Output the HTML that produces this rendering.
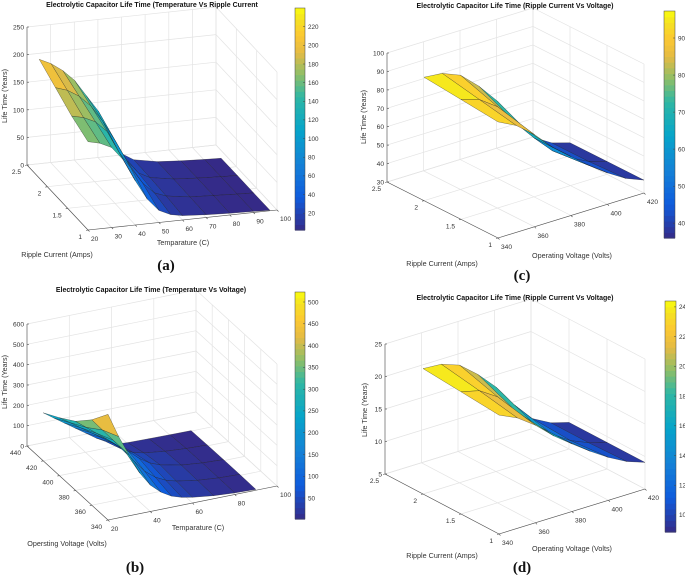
<!DOCTYPE html>
<html><head><meta charset="utf-8">
<style>
html,body{margin:0;padding:0;background:#fff;}
svg{display:block;font-family:"Liberation Sans",sans-serif;}
</style></head>
<body>
<svg id="fig" width="685" height="575" viewBox="0 0 685 575" xmlns="http://www.w3.org/2000/svg"></svg>
<script>
// ---- Panel (a): Temperature vs Ripple Current ----
const aTemps = [20,25,30,35,40,45,50,55,60,70,80,90,97];
const aRipple = [1,1.4,1.8,2.2];
const aLife = [
 [160,155,145,120,80,45,22,12,8,5,3,2,1],
 [175,170,160,140,100,70,40,20,12,6,4,2,1],
 [195,188,175,155,125,90,50,25,14,7,4,2,1],
 [215,205,190,170,140,110,60,28,15,7,4,2,1]];
const aXTicks = [20,30,40,50,60,70,80,90,100];
const aYTicks = [1,1.5,2,2.5];
const aZTicks = [0,50,100,150,200,250];
const aCbTicks = [20,40,60,80,100,120,140,160,180,200,220];
// ---- Panel (b): Temperature vs Voltage ----
const bTemps = [20,25,30,35,40,45,50,55,60,70,80,90];
const bVolts = [340,360,380,400,420];
const bLife = [
 [520,400,300,200,130,85,55,38,28,15,8,4],
 [420,360,300,245,175,115,75,50,35,18,9,5],
 [340,300,260,220,180,140,95,62,42,20,10,5],
 [285,250,215,180,145,110,65,40,28,15,8,4],
 [236,200,165,130,95,60,30,10,6,4,3,2]];
const bXTicks = [20,40,60,80,100];
const bYTicks = [340,360,380,400,420,440];
const bZTicks = [0,100,200,300,400,500,600];
const bCbTicks = [50,100,150,200,250,300,350,400,450,500];
// ---- Panel (c): Ripple Current vs Voltage ----
const cVolts = [340,350,360,370,380,390,400,410,420];
const cRipple = [1,1.5,2];
const cLife = [
 [93,88,80,70,62,54,47,41,37],
 [95,92,85,73,62,52,45,40,37],
 [97,96,92,83,72,58,46,40,37]];
const cXTicks = [340,360,380,400,420];
const cYTicks = [1,1.5,2,2.5];
const cZTicks = [30,40,50,60,70,80,90,100];
const cCbTicks = [40,50,60,70,80,90];
// ---- Panel (d): Ripple Current vs Voltage ----
const dVolts = [340,350,360,370,380,390,400,410,420];
const dRipple = [1,1.5,2];
const dLife = [
 [23.3,22.0,20.0,17.5,15.4,13.4,11.6,10.1,9.1],
 [23.8,23.1,21.3,18.2,15.4,12.9,11.1,9.9,9.1],
 [24.3,24.1,23.1,20.8,18.0,14.4,11.4,9.9,9.1]];
const dXTicks = [340,360,380,400,420];
const dYTicks = [1,1.5,2,2.5];
const dZTicks = [5,10,15,20,25];
const dCbTicks = [10,12,14,16,18,20,22,24];

const NS="http://www.w3.org/2000/svg";
const svg=document.getElementById('fig');
function mk(tag,attrs,parent,txt){const e=document.createElementNS(NS,tag);for(const k in attrs)e.setAttribute(k,attrs[k]);if(txt!==undefined)e.textContent=txt;(parent||svg).appendChild(e);return e;}
const stops=[[0,[53,42,135]],[0.15,[15,92,221]],[0.3,[20,129,214]],[0.45,[6,164,202]],[0.6,[46,183,164]],[0.7,[140,190,105]],[0.8,[228,187,68]],[0.88,[252,200,50]],[0.95,[245,226,34]],[1,[249,251,14]]];
function parula(t){t=Math.max(0,Math.min(1,t));for(let i=1;i<stops.length;i++){if(t<=stops[i][0]){const a=stops[i-1],b=stops[i];const f=(t-a[0])/(b[0]-a[0]);const c=a[1].map((v,j)=>Math.round(v+(b[1][j]-v)*f));return `rgb(${c[0]},${c[1]},${c[2]})`;}}return 'rgb(249,251,14)';}

function panel(p){
  const g=mk('g',{},svg);
  
  
  const [x0,x1]=p.xr,[y0,y1]=p.yr,[z0,z1]=p.zr;
  const P=(x,y,z)=>[p.O[0]+p.X[0]*(x-x0)/(x1-x0)+p.Y[0]*(y-y0)/(y1-y0)+p.Z[0]*(z-z0)/(z1-z0),
                   p.O[1]+p.X[1]*(x-x0)/(x1-x0)+p.Y[1]*(y-y0)/(y1-y0)+p.Z[1]*(z-z0)/(z1-z0)];
  const line=(a,b,attrs,name)=>{const l=mk('line',Object.assign({x1:a[0].toFixed(1),y1:a[1].toFixed(1),x2:b[0].toFixed(1),y2:b[1].toFixed(1)},attrs),g);return l;};
  const gs={stroke:'#e3e3e3','stroke-width':0.7};
  p.xt.forEach(x=>line(P(x,y0,z0),P(x,y1,z0),gs,'floor-gridline'));
  p.yt.forEach(y=>line(P(x0,y,z0),P(x1,y,z0),gs,'floor-gridline'));
  p.xt.forEach(x=>line(P(x,y1,z0),P(x,y1,z1),gs,'back-wall-gridline'));
  p.zt.forEach(z=>line(P(x0,y1,z),P(x1,y1,z),gs,'back-wall-gridline'));
  p.yt.forEach(y=>line(P(x1,y,z0),P(x1,y,z1),gs,'side-wall-gridline'));
  p.zt.forEach(z=>line(P(x1,y0,z),P(x1,y1,z),gs,'side-wall-gridline'));
  const as={stroke:'#4d4d4d','stroke-width':0.6};
  line(P(x0,y0,z0),P(x1,y0,z0),as,'x-axis');
  line(P(x0,y0,z0),P(x0,y1,z0),as,'y-axis');
  line(P(x0,y1,z0),P(x0,y1,z1),as,'z-axis');
  const ts={'font-size':6.6,fill:'#333'};
  p.xt.forEach(x=>{const q=P(x,y0,z0);const t=mk('text',Object.assign({x:(q[0]+3).toFixed(1),y:(q[1]+11).toFixed(1),'text-anchor':'start'},ts),g,String(x));line(q,[q[0]+1.5,q[1]+1.5],as,'x-tick');});
  p.yt.forEach(y=>{const q=P(x0,y,z0);const t=mk('text',Object.assign({x:(q[0]-6).toFixed(1),y:(q[1]+9).toFixed(1),'text-anchor':'end'},ts),g,String(y));line(q,[q[0]-2,q[1]+0.5],as,'y-tick');});
  p.zt.forEach(z=>{const q=P(x0,y1,z);const t=mk('text',Object.assign({x:(q[0]-3).toFixed(1),y:(q[1]+2.5).toFixed(1),'text-anchor':'end'},ts),g,String(z));line(q,[q[0]+2,q[1]],as,'z-tick');});
  const xs=p.xs,ys=p.ys,Zd=p.zd;const cells=[];
  for(let j=0;j<ys.length-1;j++)for(let i=0;i<xs.length-1;i++){
    const d=(xs[i]+xs[i+1]-2*x0)/(x1-x0)+(ys[j]+ys[j+1]-2*y0)/(y1-y0);
    cells.push({i,j,d});}
  cells.sort((a,b)=>b.d-a.d);
  cells.forEach(c=>{const {i,j}=c;
    const pts=[P(xs[i],ys[j],Zd[j][i]),P(xs[i+1],ys[j],Zd[j][i+1]),P(xs[i+1],ys[j+1],Zd[j+1][i+1]),P(xs[i],ys[j+1],Zd[j+1][i])];
    const zm=(Zd[j][i]+Zd[j][i+1]+Zd[j+1][i+1]+Zd[j+1][i])/4;
    const poly=mk('polygon',{points:pts.map(q=>q[0].toFixed(1)+','+q[1].toFixed(1)).join(' '),fill:parula((zm-p.cl[0])/(p.cl[1]-p.cl[0])),stroke:'#1a1a1a','stroke-width':0.35,'stroke-opacity':0.8},g);
    
    
  });
  const tt=mk('text',{x:p.title[0],y:p.title[1],'text-anchor':'middle','font-size':7,'font-weight':'bold',fill:'#111'},g,p.titleText);
  
  const xl=mk('text',{x:p.xl[0],y:p.xl[1],'text-anchor':'middle','font-size':7.2,fill:'#333'},g,p.xlText);
  
  const yl=mk('text',{x:p.yl[0],y:p.yl[1],'text-anchor':'middle','font-size':7.2,fill:'#333'},g,p.ylText);
  
  const zl=mk('text',{x:p.zl[0],y:p.zl[1],'text-anchor':'middle','font-size':7.2,fill:'#333',transform:`rotate(-90 ${p.zl[0]} ${p.zl[1]})`},g,'Life Time (Years)');
  
  const lb=mk('text',{x:p.lab[0],y:p.lab[1],'text-anchor':'middle','font-size':15,'font-weight':'bold','font-family':'Liberation Serif, serif',fill:'#111'},g,p.labText);
  
  const [cx,cy,cw,ch]=p.cb;const n=40;
  for(let k=0;k<n;k++){const r=mk('rect',{x:cx,y:(cy+ch*(1-(k+1)/n)).toFixed(2),width:cw,height:(ch/n+0.6).toFixed(2),fill:parula((k+0.5)/n)},g);}
  const fr=mk('rect',{x:cx,y:cy,width:cw,height:ch,fill:'none',stroke:'#444','stroke-width':0.5},g);
  
  p.cbt.forEach(v=>{const yy=cy+ch*(1-(v-p.cl[0])/(p.cl[1]-p.cl[0]));const t=mk('text',{x:cx+cw+3,y:(yy+2.3).toFixed(1),'font-size':6.3,fill:'#333'},g,String(v));line([cx+cw-2,yy],[cx+cw,yy],{stroke:'#444','stroke-width':0.5},'colorbar-tick');});
}

panel({name:'panel-a',xr:[20,100],yr:[1,2.5],zr:[0,250],O:[88,230],X:[189,-20],Y:[-61,-65],Z:[0,-138],
 xt:aXTicks,yt:aYTicks,zt:aZTicks,xs:aTemps,ys:aRipple,zd:aLife,cl:[2,240],cb:[295,8,10,222],cbt:aCbTicks,
 title:[152,7],titleText:'Electrolytic Capacitor Life Time (Temperature Vs Ripple Current',
 xl:[183,245],xlText:'Temparature (C)',yl:[57,257],ylText:'Ripple Current (Amps)',zl:[7,96],lab:[166,270],labText:'(a)'});
panel({name:'panel-b',xr:[20,100],yr:[340,440],zr:[0,600],O:[108,520],X:[169,-34],Y:[-81,-74],Z:[0,-122],
 xt:bXTicks,yt:bYTicks,zt:bZTicks,xs:bTemps,ys:bVolts,zd:bLife,cl:[2,523],cb:[295,292,10,227],cbt:bCbTicks,
 title:[151,292],titleText:'Electrolytic Capacitor Life Time (Temperature Vs Voltage)',
 xl:[198,530],xlText:'Temparature (C)',yl:[67,546],ylText:'Opersting Voltage (Volts)',zl:[7,382],lab:[135,572],labText:'(b)'});
panel({name:'panel-c',xr:[340,420],yr:[1,2.5],zr:[30,100],O:[498,238],X:[146,-45],Y:[-111,-56],Z:[0,-129],
 xt:cXTicks,yt:cYTicks,zt:cZTicks,xs:cVolts,ys:cRipple,zd:cLife,cl:[36,97.3],cb:[664,11,11,227],cbt:cCbTicks,
 title:[515,8],titleText:'Electrolytic Capacitor Life Time (Ripple Current Vs Voltage)',
 xl:[572,258],xlText:'Operating Voltage (Volts)',yl:[442,266],ylText:'Ripple Current (Amps)',zl:[366,117],lab:[522,280],labText:'(c)'});
panel({name:'panel-d',xr:[340,420],yr:[1,2.5],zr:[5,25],O:[499,534],X:[146,-45],Y:[-114,-60],Z:[0,-130],
 xt:dXTicks,yt:dYTicks,zt:dZTicks,xs:dVolts,ys:dRipple,zd:dLife,cl:[8.85,24.4],cb:[665,301,11,231],cbt:dCbTicks,
 title:[515,300],titleText:'Electrolytic Capacitor Life Time (Ripple Current Vs Voltage)',
 xl:[572,551],xlText:'Operating Voltage (Volts)',yl:[442,558],ylText:'Ripple Current (Amps)',zl:[367,410],lab:[522,572],labText:'(d)'});
</script>
</body></html>
